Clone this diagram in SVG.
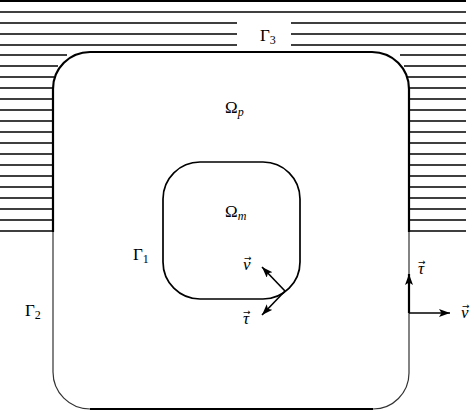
<svg xmlns="http://www.w3.org/2000/svg" width="474" height="411" viewBox="0 0 474 411">
<defs>
<style>
.h{stroke:#000;stroke-width:1.4;fill:none}
.thick{stroke:#000;stroke-width:2.2;fill:none}
.thin{stroke:#333;stroke-width:1.2;fill:none}
.arr{stroke:#000;stroke-width:1.6;fill:none;marker-end:url(#ah)}
.lbl{font-family:"Liberation Serif","DejaVu Serif",serif;font-size:17px;fill:#000}
.it{font-style:italic}
.sub{font-size:12px}
.vec{font-family:"DejaVu Sans","Liberation Sans",sans-serif;font-size:9px;font-style:normal}
</style>
<marker id="ah" markerUnits="userSpaceOnUse" markerWidth="12" markerHeight="10" refX="11" refY="4" orient="auto">
<path d="M0,0 L11,4 L0,8 L2.5,4 z" fill="#000"/>
</marker>
</defs>
<g id="hatching">
<path class="h" style="stroke-width:2" d="M0,1 H466"/>
<path class="h" d="M0,12 H466"/>
<path class="h" d="M0,23 H237 M291,23 H466"/>
<path class="h" d="M0,34 H237 M291,34 H466"/>
<path class="h" d="M0,45 H237 M291,45 H466"/>
<path class="h" d="M0,55 H67 M400,55 H466"/>
<path class="h" d="M0,66 H58 M404,66 H466"/>
<path class="h" d="M0,77 H54 M407,77 H466"/>
<path class="h" d="M0,88 H53 M409,88 H466 M0,99 H53 M409,99 H466 M0,110 H53 M409,110 H466 M0,121 H53 M409,121 H466 M0,132 H53 M409,132 H466 M0,143 H53 M409,143 H466 M0,154 H53 M409,154 H466 M0,165 H53 M409,165 H466 M0,176 H53 M409,176 H466 M0,187 H53 M409,187 H466 M0,198 H53 M409,198 H466 M0,209 H53 M409,209 H466 M0,220 H53 M409,220 H466 M0,231 H53 M409,231 H466"/>
</g>
<g id="omega_p_boundary">
<path class="thick" d="M53,232 V89 A37,37 0 0 1 90,52 H372 A37,37 0 0 1 409,89 V232"/>
<path class="thin" d="M53,232 V372 A37,37 0 0 0 90,409"/>
<path class="thick" d="M90,409 H373"/>
<path class="thin" d="M373,409 A36,36 0 0 0 409,373 V232"/>
</g>
<g id="omega_m">
<rect x="163" y="162" width="137" height="137" rx="37" ry="37" fill="none" stroke="#000" stroke-width="1.7"/>
</g>
<g id="connectors">
<line class="arr" x1="285" y1="291" x2="262" y2="267"/>
<line class="arr" x1="285" y1="291" x2="262" y2="315"/>
<line class="arr" style="stroke-width:2.2" x1="409" y1="313" x2="409" y2="274"/>
<line class="arr" x1="409" y1="313" x2="450" y2="313"/>
</g>
<g id="labels">
<text class="lbl" x="225" y="113">Ω<tspan class="it sub" dy="3">p</tspan></text>
<text class="lbl" x="225" y="217">Ω<tspan class="it sub" dy="3">m</tspan></text>
<text class="lbl" x="133" y="260">Γ<tspan class="sub" dy="3">1</tspan></text>
<text class="lbl" x="25" y="316">Γ<tspan class="sub" dy="3">2</tspan></text>
<text class="lbl" x="260" y="41">Γ<tspan class="sub" dy="3">3</tspan></text>
<text class="lbl it" x="243" y="270">ν<tspan class="vec" x="244" y="261">→</tspan></text>
<text class="lbl it" x="243" y="324">τ<tspan class="vec" x="243" y="315">→</tspan></text>
<text class="lbl it" x="418" y="274">τ<tspan class="vec" x="418" y="265">→</tspan></text>
<text class="lbl it" x="461" y="318">ν<tspan class="vec" x="462" y="309">→</tspan></text>
</g>
</svg>
